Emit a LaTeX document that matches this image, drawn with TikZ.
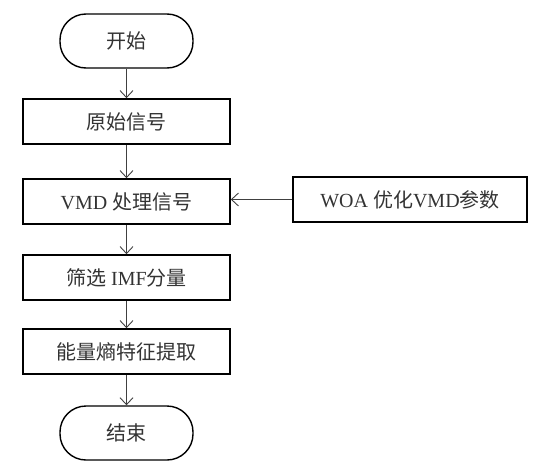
\documentclass[tikz,border=0pt]{standalone}
\usepackage{fontspec}
\setmainfont{Liberation Serif}
\newfontfamily\cjk{Noto Sans CJK SC}
\usetikzlibrary{arrows.meta}
\begin{document}
\begin{tikzpicture}[x=1pt,y=-1pt,
  box/.style={draw=black,line width=1.6pt,minimum width=207pt,minimum height=45pt,inner sep=0pt,font=\fontsize{20}{22}\selectfont,text=black!80},
  term/.style={draw=black,line width=1.4pt,rounded corners=26pt,minimum width=133pt,minimum height=54pt,inner sep=0pt,font=\fontsize{20}{22}\selectfont,text=black!80},
  conn/.style={draw=black!75,line width=0.9pt,-{Straight Barb[length=7pt,width=13pt,line width=0.9pt]}}]
\useasboundingbox (0,0) rectangle (540,474);
\node[term] (start) at (126.5,41) {\cjk 开始};
\node[box] (s1) at (126.5,121.5) {\cjk 原始信号};
\node[box] (s2) at (126.5,201.5) {VMD {\cjk 处理信号}};
\node[box] (s3) at (126.5,277.5) {{\cjk 筛选} IMF{\cjk 分量}};
\node[box] (s4) at (126.5,351.5) {\cjk 能量熵特征提取};
\node[term] (end) at (126.5,433) {\cjk 结束};
\node[box,minimum width=234pt] (woa) at (410,199.5) {WOA {\cjk 优化}VMD{\cjk 参数}};
\draw[conn] (start) -- (s1);
\draw[conn] (s1) -- (s2);
\draw[conn] (s2) -- (s3);
\draw[conn] (s3) -- (s4);
\draw[conn] (s4) -- (end);
\draw[conn] (woa.west) -- (s2.east |- woa.west);
\end{tikzpicture}
\end{document}
